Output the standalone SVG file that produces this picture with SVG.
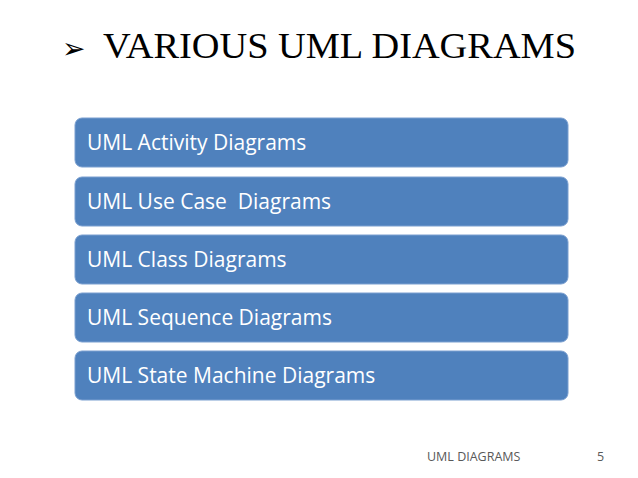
<svg xmlns="http://www.w3.org/2000/svg" width="638" height="478" viewBox="0 0 638 478">
<style>
.b{fill:#4f81bd;stroke:#7a9fd0;stroke-width:1}
.t{font-family:"Open Sans","Liberation Sans",sans-serif;font-size:21px;fill:#fff}
.f{font-family:"Open Sans","Liberation Sans",sans-serif;font-size:12.5px;fill:#595959}
</style>
<rect width="638" height="478" fill="#fff"/>
<g id="title">
<text x="62" y="58" font-family="DejaVu Sans,sans-serif" font-size="28" fill="#000">➢</text>
<text x="103" y="58" font-family="Liberation Serif,serif" font-size="35" fill="#000" textLength="473" lengthAdjust="spacingAndGlyphs">VARIOUS UML DIAGRAMS</text>
</g>
<g id="n1"><rect class="b" x="75" y="118" width="493" height="49" rx="7"/><text class="t" x="87" y="150">UML Activity Diagrams</text></g>
<g id="n2"><rect class="b" x="75" y="177" width="493" height="49" rx="7"/><text class="t" x="87" y="209" xml:space="preserve">UML Use Case  Diagrams</text></g>
<g id="n3"><rect class="b" x="75" y="235" width="493" height="49" rx="7"/><text class="t" x="87" y="267">UML Class Diagrams</text></g>
<g id="n4"><rect class="b" x="75" y="293" width="493" height="49" rx="7"/><text class="t" x="87" y="325">UML Sequence Diagrams</text></g>
<g id="n5"><rect class="b" x="75" y="351" width="493" height="49" rx="7"/><text class="t" x="87" y="383">UML State Machine Diagrams</text></g>
<g id="connectors"/>
<g id="footer">
<text class="f" x="427" y="461">UML DIAGRAMS</text>
<text class="f" x="597" y="461" font-size="14">5</text>
</g>
</svg>
